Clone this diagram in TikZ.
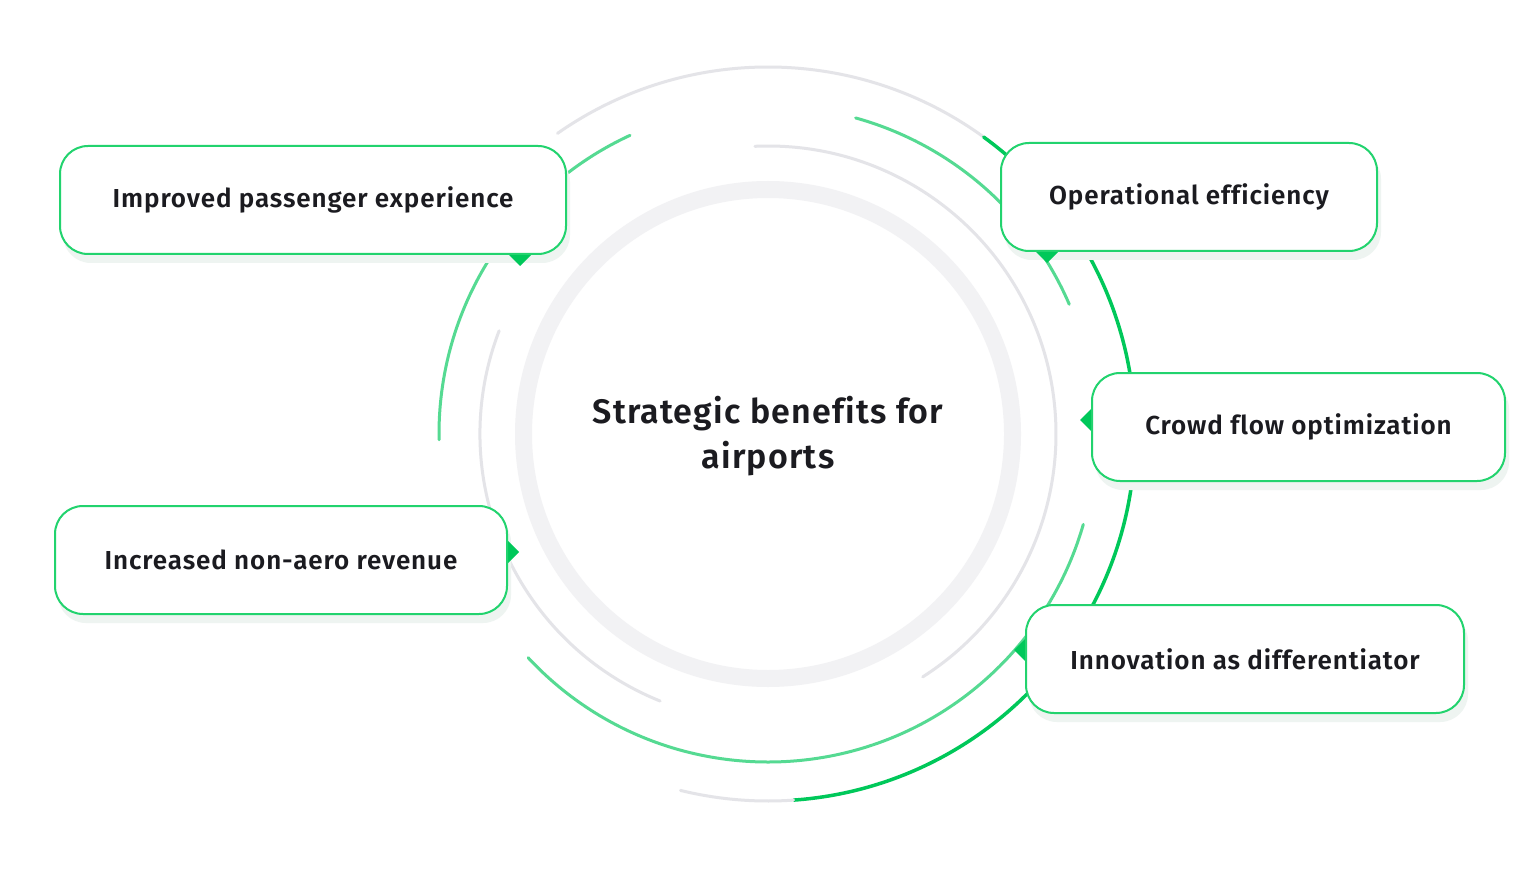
\documentclass[tikz,border=0pt]{standalone}
\usepackage{fontspec}
\setmainfont{Fira Sans}[Ligatures=NoCommon,BoldFont={Fira Sans SemiBold},BoldFeatures={LetterSpace=3.5}]
\usetikzlibrary{calc}
\definecolor{ringgray}{HTML}{F2F2F4}
\definecolor{thingray}{HTML}{E4E4E8}
\definecolor{lightgreen}{HTML}{55DA92}
\definecolor{darkgreen}{HTML}{00C85A}
\definecolor{boxgreen}{HTML}{22D36E}
\definecolor{shadowc}{HTML}{EEF4F1}
\definecolor{textc}{HTML}{1B1B20}
\newcommand\carc[4]{\draw[#1] (C) ++(#3:#2) arc[start angle=#3,end angle=#4,radius=#2];}
\begin{document}
\begin{tikzpicture}[x=1pt,y=1pt,
  ring/.style={draw=ringgray,line width=17pt},
  garc/.style={draw=thingray,line width=3pt,line cap=round},
  lgarc/.style={draw=lightgreen,line width=3pt,line cap=round},
  dgarc/.style={draw=darkgreen,line width=3.5pt,line cap=round},
  benefit/.style={draw=boxgreen,line width=2pt,fill=white,rounded corners=28pt,
    minimum height=108pt,inner sep=0pt,text=textc,font=\bfseries\fontsize{26}{30}\selectfont},
  shadowbox/.style={fill=shadowc,rounded corners=28pt},
  marker/.style={fill=darkgreen}]
\useasboundingbox[fill=white] (0,0) rectangle (1536,-874);
\coordinate (C) at (768,-434);
% rings and arcs
\draw[ring] (C) circle[radius=244.5];
\carc{garc}{288}{92.6}{-57.5}
\carc{garc}{288}{159}{248}
\carc{lgarc}{329}{114.8}{181}
\carc{lgarc}{328}{74.5}{23.3}
\carc{lgarc}{328}{223}{344}
\carc{garc}{367}{125}{54}
\carc{dgarc}{367}{54}{-86}
\carc{garc}{367}{-86}{-103.8}
% shadows
\fill[shadowbox] (63,-154) rectangle (570,-263);
\fill[shadowbox] (1004,-151) rectangle (1381,-260);
\fill[shadowbox] (1095,-381) rectangle (1509,-490);
\fill[shadowbox] (58,-514) rectangle (511,-623);
\fill[shadowbox] (1029,-613) rectangle (1468,-722);
% markers
\coordinate (m1) at (520,-254);
\coordinate (m2) at (1047,-251);
\coordinate (m3) at (1092,-420);
\coordinate (m4) at (507,-552);
\coordinate (m5) at (1026,-650);
\foreach \m in {m1,m2,m3,m4,m5}{
  \fill[marker] (\m) +(0,12) -- +(12,0) -- +(0,-12) -- +(-12,0) -- cycle;}
% boxes
\node[benefit,minimum width=506pt] (b1) at (313,-200) {Improved passenger experience};
\node[benefit,minimum width=376pt] (b2) at (1189,-197) {Operational efficiency};
\node[benefit,minimum width=413pt] (b3) at (1298.5,-427) {Crowd flow optimization};
\node[benefit,minimum width=452pt] (b4) at (281,-560) {Increased non-aero revenue};
\node[benefit,minimum width=438pt] (b5) at (1245,-659) {Innovation as differentiator};
% center title
\node[align=center,text=textc,font=\bfseries\fontsize{34}{45}\selectfont] (title) at (768,-436)
  {Strategic benefits for\\airports};
\end{tikzpicture}
\end{document}
